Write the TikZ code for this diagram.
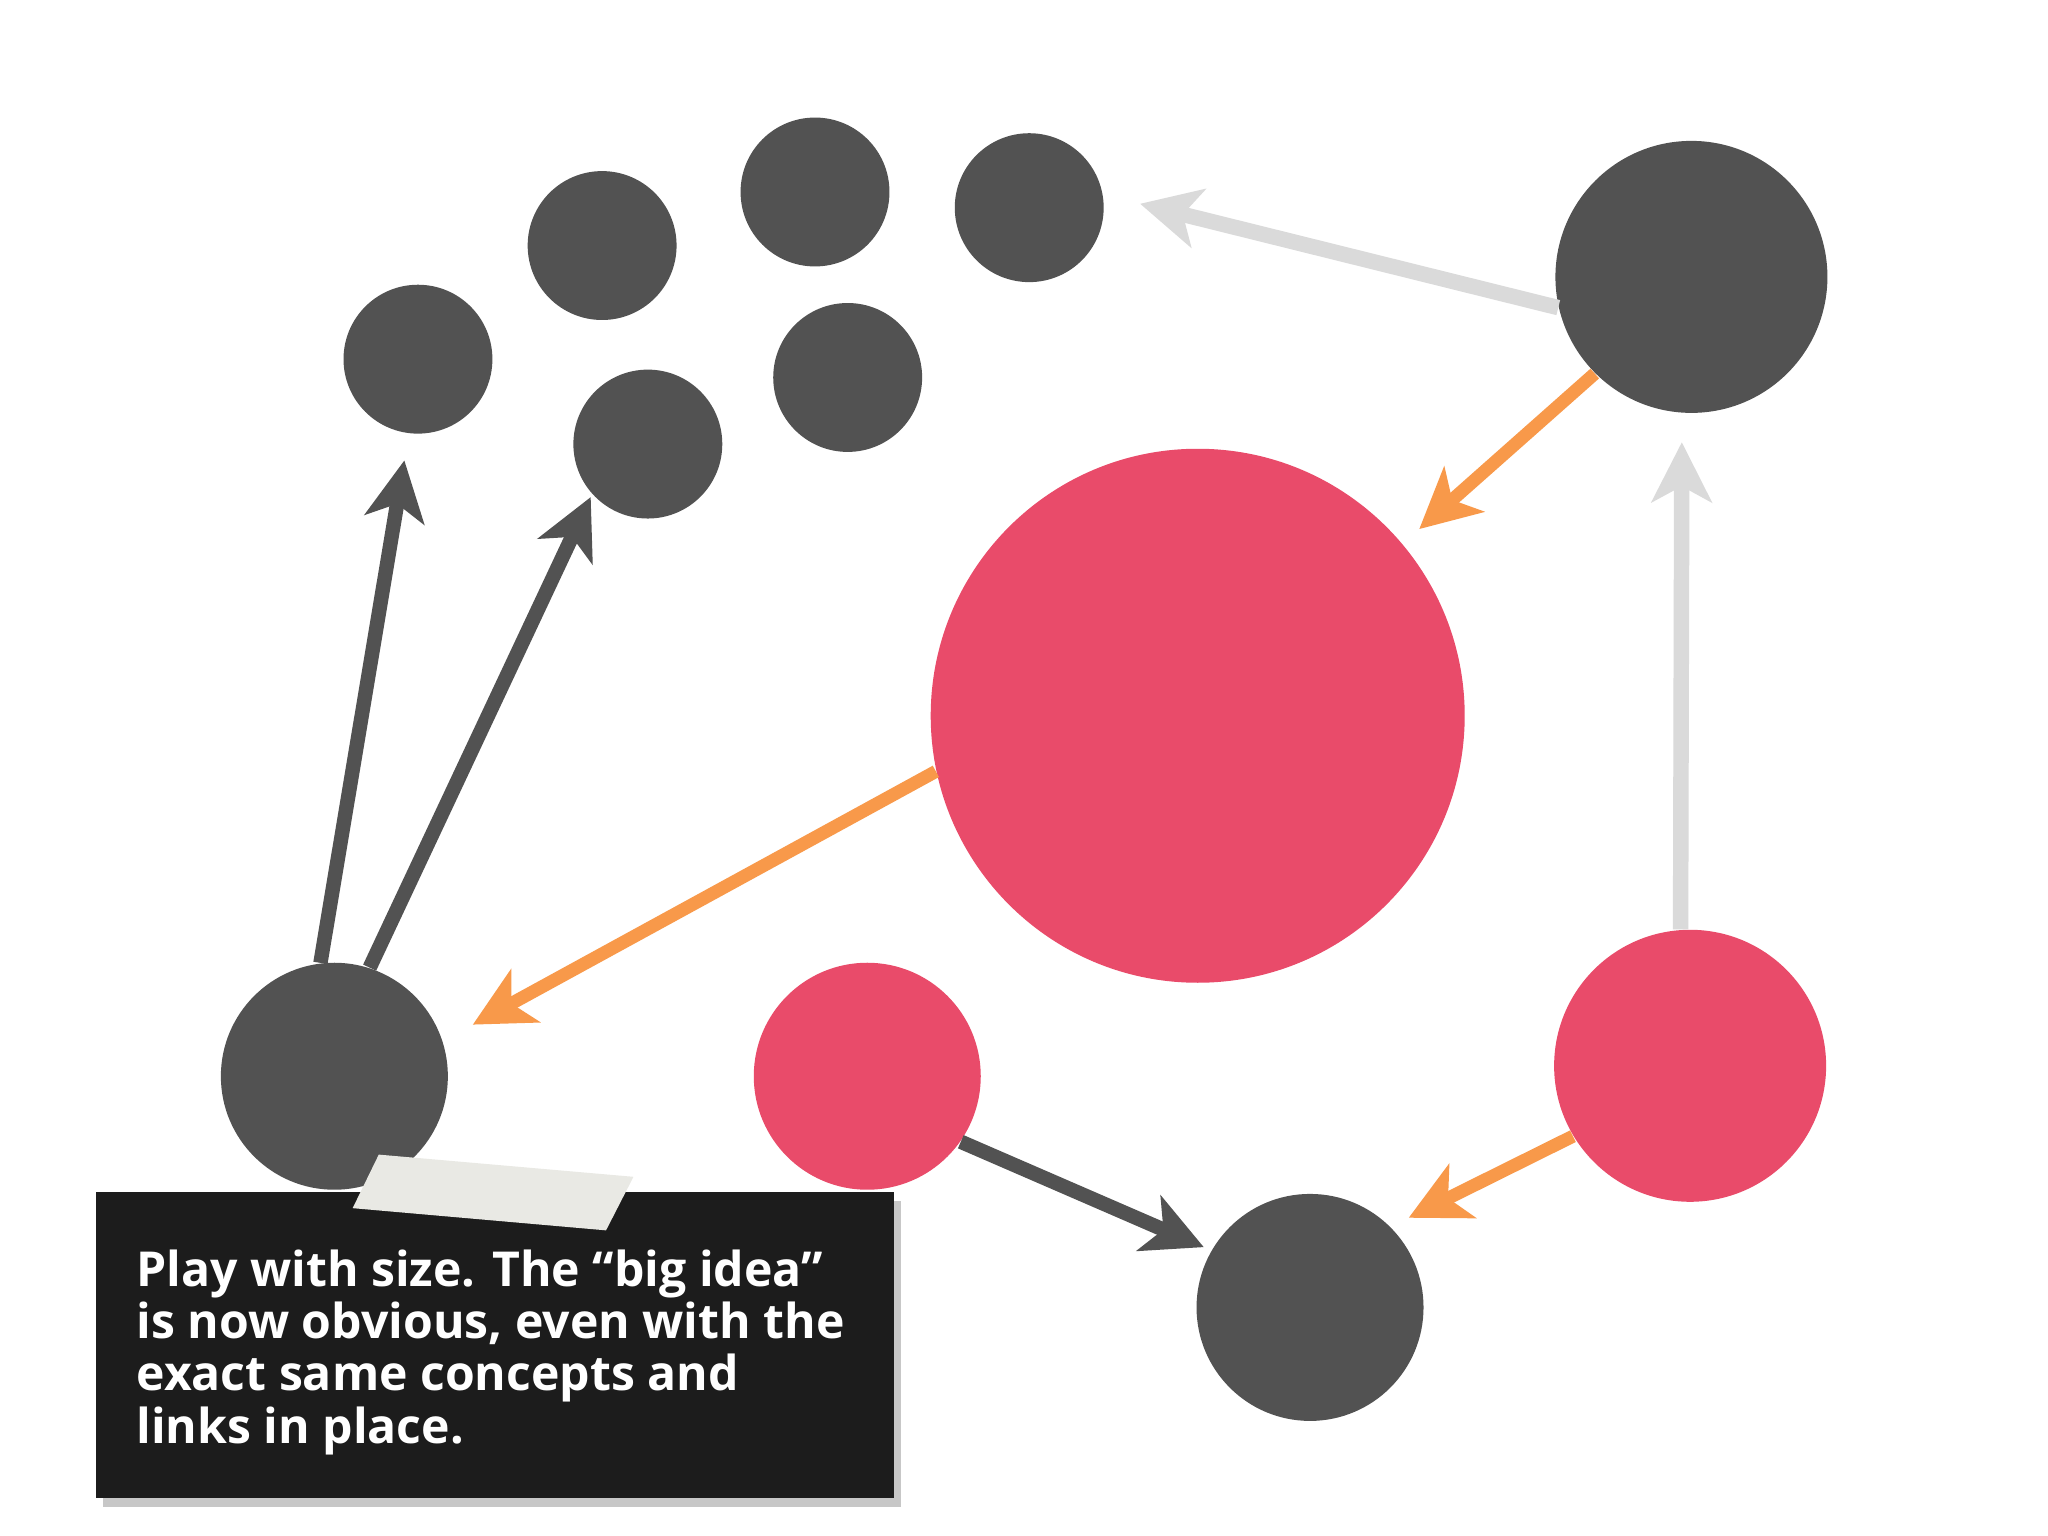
\documentclass[tikz,border=0pt]{standalone}
\usepackage{fontspec}
\setmainfont{Open Sans}
\usetikzlibrary{positioning,arrows.meta,shadows}
\definecolor{nodegray}{HTML}{525252}
\definecolor{ideared}{HTML}{E94B6A}
\definecolor{linkorange}{HTML}{F8994A}
\definecolor{linkgray}{HTML}{DADADA}
\definecolor{notebg}{HTML}{1C1C1C}
\definecolor{tapecol}{HTML}{E9E9E4}
\tikzset{
  concept/.style   = {shape=circle, fill=nodegray, inner sep=0pt,
                      minimum size=#1},
  concept/.default = 1.489cm,
  hot/.style       = {concept=#1, fill=ideared},
  link/.style      = {->, line width=4.1pt, draw=nodegray},
  weaklink/.style  = {->, line width=4.4pt, draw=linkgray},
  keylink/.style   = {->, line width=3.7pt, draw=linkorange},
  notebox/.style   = {shape=rectangle, fill=notebg, inner sep=0pt,
                      drop shadow={shadow xshift=2pt, shadow yshift=-2.5pt,
                                   opacity=0.22, fill=black}},
  caption/.style   = {text=white, align=left, inner sep=0pt,
                      font=\bfseries\fontsize{13.7}{14.9}\selectfont}
}

\begin{document}
\begin{tikzpicture}[x=0.01306cm, y=-0.01306cm,
   >={Stealth[length=17pt,width=17pt,inset=4.5pt]}]
\fill[white] (0,0) rectangle (1568,1176);
\useasboundingbox (0,0) rectangle (1568,1176);

% small concepts, top left
\node [concept] (s1) at (320,275) {};
\node [concept] (s2) at (461,188) {};
\node [concept] (s3) at (624,147) {};
\node [concept] (s4) at (788,159) {};
\node [concept] (s5) at (496,340) {};
\node [concept] (s6) at (649,289) {};

% the others
\node [concept=2.72cm] (hub)  at (1295,212) {};
\node [hot=5.34cm]     (idea) at (917,548)  {};
\node [concept=2.27cm] (src)  at (256,824)  {};
\node [hot=2.27cm]     (redl) at (664,824)  {};
\node [hot=2.72cm]     (redr) at (1294,816) {};
\node [concept=2.27cm] (sink) at (1003,1001) {};

% links
\draw [weaklink, shorten >=0.38cm] (hub.193) -- (s4.10);
\draw [keylink,  shorten >=0.22cm] (hub.225) -- (idea.40);
\draw [weaklink, shorten >=0.29cm] (redr.94) -- (hub.266);
\draw [keylink,  shorten >=0.34cm] (idea.192) -- (src.18);
\draw [link,     shorten >=0.27cm] (src.97) -- (s1.263);
\draw [link,     shorten >=0.03cm] (src.72) -- (s5.222);
\draw [link,     shorten >=0.08cm] (redl.325) -- (sink.150);
\draw [keylink,  shorten >=0.20cm] (redr.211) -- (sink.45);

% note with tape
\node [notebox, minimum width=7.98cm, minimum height=3.06cm,
       anchor=north west] (note) at (73,912) {};
\fill [tapecol] (290,884) -- (485,901) -- (464,942) -- (270,925) -- cycle;
\node [caption, anchor=base west] (text) at (104,1105)
  {Play with size. The “big idea”\\
   is now obvious, even with the\\
   exact same concepts and\\
   links in place.};
\end{tikzpicture}
\end{document}
